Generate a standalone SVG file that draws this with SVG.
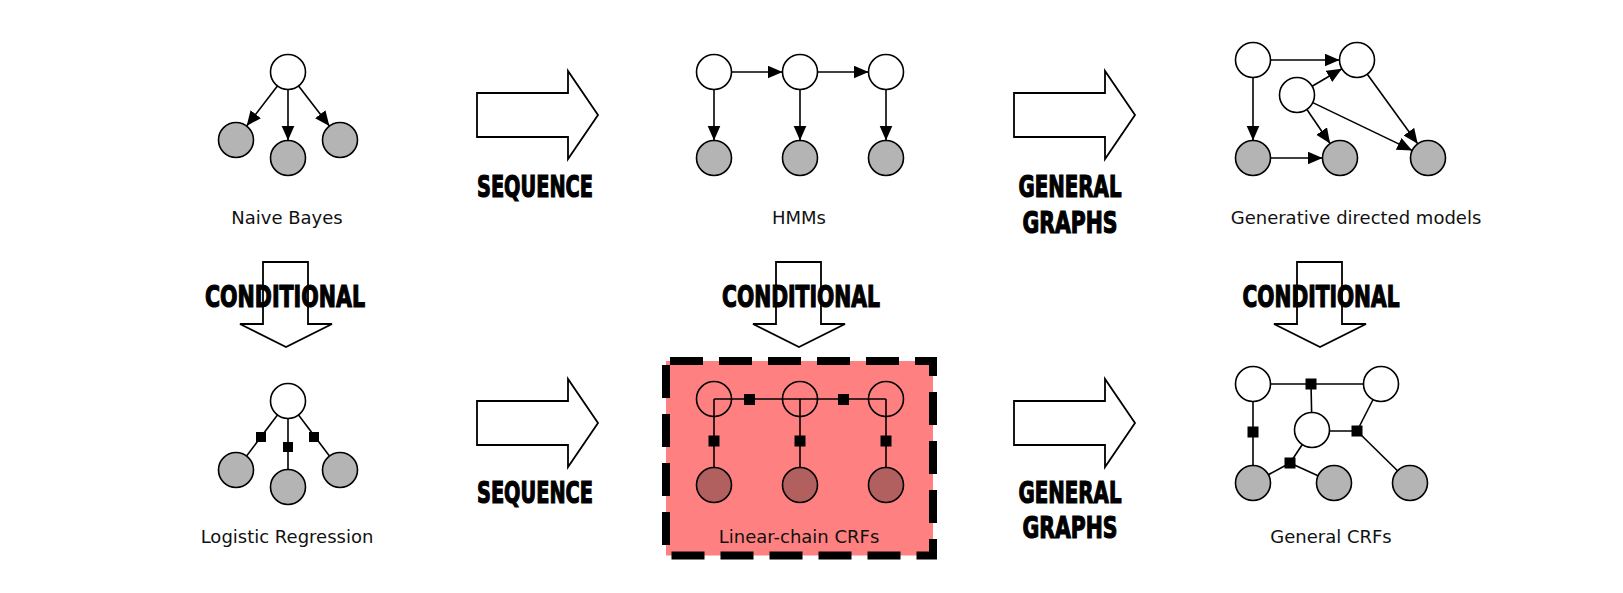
<svg xmlns="http://www.w3.org/2000/svg" width="1623" height="593" viewBox="0 0 1623 593">
<style>
.bg{fill:#ffffff}
.hid{fill:#ffffff;stroke:#000;stroke-width:1.6}
.hidc{fill:none;stroke:#000;stroke-width:1.6}
.obs{fill:#b4b4b4;stroke:#000;stroke-width:1.6}
.obsr{fill:#b15f5f;stroke:#000;stroke-width:1.6}
.edge{stroke:#000;stroke-width:1.6;fill:none}
.dir{stroke:#000;stroke-width:1.6;fill:none;marker-end:url(#ah)}
.fac{fill:#000}
.big{fill:#ffffff;stroke:#000;stroke-width:1.8;stroke-linejoin:miter}
.lbl{font-family:"DejaVu Sans","Liberation Sans",sans-serif;font-size:18px;fill:#111;text-anchor:middle}
.bold{font-family:"Liberation Sans Narrow","DejaVu Sans Condensed","Liberation Sans",sans-serif;font-weight:bold;font-size:31px;fill:#000;stroke:#000;stroke-width:1.2;text-anchor:middle}
</style>
<defs>
<marker id="ah" markerUnits="userSpaceOnUse" markerWidth="16" markerHeight="14" refX="15" refY="6.5" orient="auto">
<path d="M0,0 L15,6.5 L0,13 z" fill="#000"/>
</marker>
</defs>
<rect class="bg" x="0" y="0" width="1623" height="593"/>

<g id="transitions">
<g id="seq-top"><polygon class="big" points="477,93 568,93 568,71 598,115 568,159 568,137 477,137"/><text class="bold" x="535" y="197" textLength="116" lengthAdjust="spacingAndGlyphs">SEQUENCE</text></g>
<g id="gen-top"><polygon class="big" points="1014,93 1105,93 1105,71 1135,115 1105,159 1105,137 1014,137"/><text class="bold" x="1070" y="197" textLength="103" lengthAdjust="spacingAndGlyphs">GENERAL</text><text class="bold" x="1070" y="233" textLength="95" lengthAdjust="spacingAndGlyphs">GRAPHS</text></g>
<g id="cond-left"><polygon class="big" points="263,262 308,262 308,324 332,324 286,347 240,324 263,324"/><text class="bold" x="285" y="307" textLength="160" lengthAdjust="spacingAndGlyphs">CONDITIONAL</text></g>
<g id="cond-mid"><polygon class="big" points="776,262 821,262 821,324 845,324 799,347 753,324 776,324"/><text class="bold" x="801" y="307" textLength="158" lengthAdjust="spacingAndGlyphs">CONDITIONAL</text></g>
<g id="cond-right"><polygon class="big" points="1297,262 1342,262 1342,324 1366,324 1320,347 1274,324 1297,324"/><text class="bold" x="1321" y="307" textLength="157" lengthAdjust="spacingAndGlyphs">CONDITIONAL</text></g>
<g id="seq-bot"><polygon class="big" points="477,401 568,401 568,379 598,423 568,467 568,445 477,445"/><text class="bold" x="535" y="503" textLength="116" lengthAdjust="spacingAndGlyphs">SEQUENCE</text></g>
<g id="gen-bot"><polygon class="big" points="1014,401 1105,401 1105,379 1135,423 1105,467 1105,445 1014,445"/><text class="bold" x="1070" y="503" textLength="103" lengthAdjust="spacingAndGlyphs">GENERAL</text><text class="bold" x="1070" y="538" textLength="95" lengthAdjust="spacingAndGlyphs">GRAPHS</text></g>
</g>

<g id="crf-box">
<rect x="666" y="361" width="267" height="194.5" fill="#ff8080" stroke="#000" stroke-width="8" stroke-dasharray="33 16" stroke-dashoffset="45"/>
</g>

<g id="connectors">
<!-- Naive Bayes -->
<line class="dir" x1="277.4" y1="85.9" x2="246.6" y2="126.1"/>
<line class="dir" x1="288" y1="89.5" x2="288" y2="140.5"/>
<line class="dir" x1="298.6" y1="85.9" x2="329.4" y2="126.1"/>
<!-- HMM -->
<line class="dir" x1="731.5" y1="72" x2="782.5" y2="72"/>
<line class="dir" x1="817.5" y1="72" x2="868.5" y2="72"/>
<line class="dir" x1="714" y1="89.5" x2="714" y2="140.5"/>
<line class="dir" x1="800" y1="89.5" x2="800" y2="140.5"/>
<line class="dir" x1="886" y1="89.5" x2="886" y2="140.5"/>
<!-- Generative directed -->
<line class="dir" x1="1270.5" y1="60" x2="1339.5" y2="60"/>
<line class="dir" x1="1253" y1="77.5" x2="1253" y2="140.5"/>
<line class="dir" x1="1312.1" y1="86.2" x2="1341.9" y2="68.8"/>
<line class="dir" x1="1306.9" y1="109.5" x2="1330.1" y2="143.5"/>
<line class="dir" x1="1312.8" y1="102.6" x2="1412.2" y2="150.4"/>
<line class="dir" x1="1367.3" y1="74.2" x2="1417.7" y2="143.8"/>
<line class="dir" x1="1270.5" y1="158" x2="1322.5" y2="158"/>
<!-- Logistic regression -->
<line class="edge" x1="288" y1="401" x2="236" y2="470"/>
<line class="edge" x1="288" y1="401" x2="288" y2="487"/>
<line class="edge" x1="288" y1="401" x2="340" y2="470"/>
<!-- Linear chain -->
<line class="edge" x1="714" y1="399" x2="886" y2="399"/>
<line class="edge" x1="714" y1="399" x2="714" y2="485"/>
<line class="edge" x1="800" y1="399" x2="800" y2="485"/>
<line class="edge" x1="886" y1="399" x2="886" y2="485"/>
<!-- General CRF -->
<line class="edge" x1="1253" y1="384" x2="1381" y2="384"/>
<line class="edge" x1="1311" y1="384" x2="1312" y2="430"/>
<line class="edge" x1="1253" y1="384" x2="1253" y2="483"/>
<line class="edge" x1="1312" y1="431" x2="1357" y2="431"/>
<line class="edge" x1="1357" y1="431" x2="1381" y2="384"/>
<line class="edge" x1="1357" y1="431" x2="1410" y2="483"/>
<line class="edge" x1="1290" y1="463" x2="1312" y2="430"/>
<line class="edge" x1="1290" y1="463" x2="1253" y2="483"/>
<line class="edge" x1="1290" y1="463" x2="1334" y2="483"/>
<!-- factors -->
<rect class="fac" x="256" y="432" width="10" height="10"/>
<rect class="fac" x="283" y="442" width="10" height="10"/>
<rect class="fac" x="309" y="432" width="10" height="10"/>
<rect class="fac" x="744" y="394" width="11" height="11"/>
<rect class="fac" x="838" y="394" width="11" height="11"/>
<rect class="fac" x="708.5" y="435.5" width="11" height="11"/>
<rect class="fac" x="794.5" y="435.5" width="11" height="11"/>
<rect class="fac" x="880.5" y="435.5" width="11" height="11"/>
<rect class="fac" x="1305.5" y="378.5" width="11" height="11"/>
<rect class="fac" x="1247.5" y="426.5" width="11" height="11"/>
<rect class="fac" x="1351.5" y="425.5" width="11" height="11"/>
<rect class="fac" x="1284.5" y="457.5" width="11" height="11"/>
</g>

<g id="naive-bayes">
<circle class="hid" cx="288" cy="72" r="17.5"/>
<circle class="obs" cx="236" cy="140" r="17.5"/>
<circle class="obs" cx="288" cy="158" r="17.5"/>
<circle class="obs" cx="340" cy="140" r="17.5"/>
<text class="lbl" x="287" y="224">Naive Bayes</text>
</g>
<g id="hmm">
<circle class="hid" cx="714" cy="72" r="17.5"/>
<circle class="hid" cx="800" cy="72" r="17.5"/>
<circle class="hid" cx="886" cy="72" r="17.5"/>
<circle class="obs" cx="714" cy="158" r="17.5"/>
<circle class="obs" cx="800" cy="158" r="17.5"/>
<circle class="obs" cx="886" cy="158" r="17.5"/>
<text class="lbl" x="799" y="224">HMMs</text>
</g>
<g id="generative-directed">
<circle class="hid" cx="1253" cy="60" r="17.5"/>
<circle class="hid" cx="1357" cy="60" r="17.5"/>
<circle class="hid" cx="1297" cy="95" r="17.5"/>
<circle class="obs" cx="1253" cy="158" r="17.5"/>
<circle class="obs" cx="1340" cy="158" r="17.5"/>
<circle class="obs" cx="1428" cy="158" r="17.5"/>
<text class="lbl" x="1356" y="224">Generative directed models</text>
</g>
<g id="logistic-regression">
<circle class="hid" cx="288" cy="401" r="17.5"/>
<circle class="obs" cx="236" cy="470" r="17.5"/>
<circle class="obs" cx="288" cy="487" r="17.5"/>
<circle class="obs" cx="340" cy="470" r="17.5"/>
<text class="lbl" x="287" y="543">Logistic Regression</text>
</g>
<g id="linear-chain-crf">
<circle class="hidc" cx="714" cy="399" r="17.5"/>
<circle class="hidc" cx="800" cy="399" r="17.5"/>
<circle class="hidc" cx="886" cy="399" r="17.5"/>
<circle class="obsr" cx="714" cy="485" r="17.5"/>
<circle class="obsr" cx="800" cy="485" r="17.5"/>
<circle class="obsr" cx="886" cy="485" r="17.5"/>
<text class="lbl" x="799" y="543">Linear-chain CRFs</text>
</g>
<g id="general-crf">
<circle class="hid" cx="1253" cy="384" r="17.5"/>
<circle class="hid" cx="1381" cy="384" r="17.5"/>
<circle class="hid" cx="1312" cy="430" r="17.5"/>
<circle class="obs" cx="1253" cy="483" r="17.5"/>
<circle class="obs" cx="1334" cy="483" r="17.5"/>
<circle class="obs" cx="1410" cy="483" r="17.5"/>
<text class="lbl" x="1331" y="543">General CRFs</text>
</g>
</svg>
